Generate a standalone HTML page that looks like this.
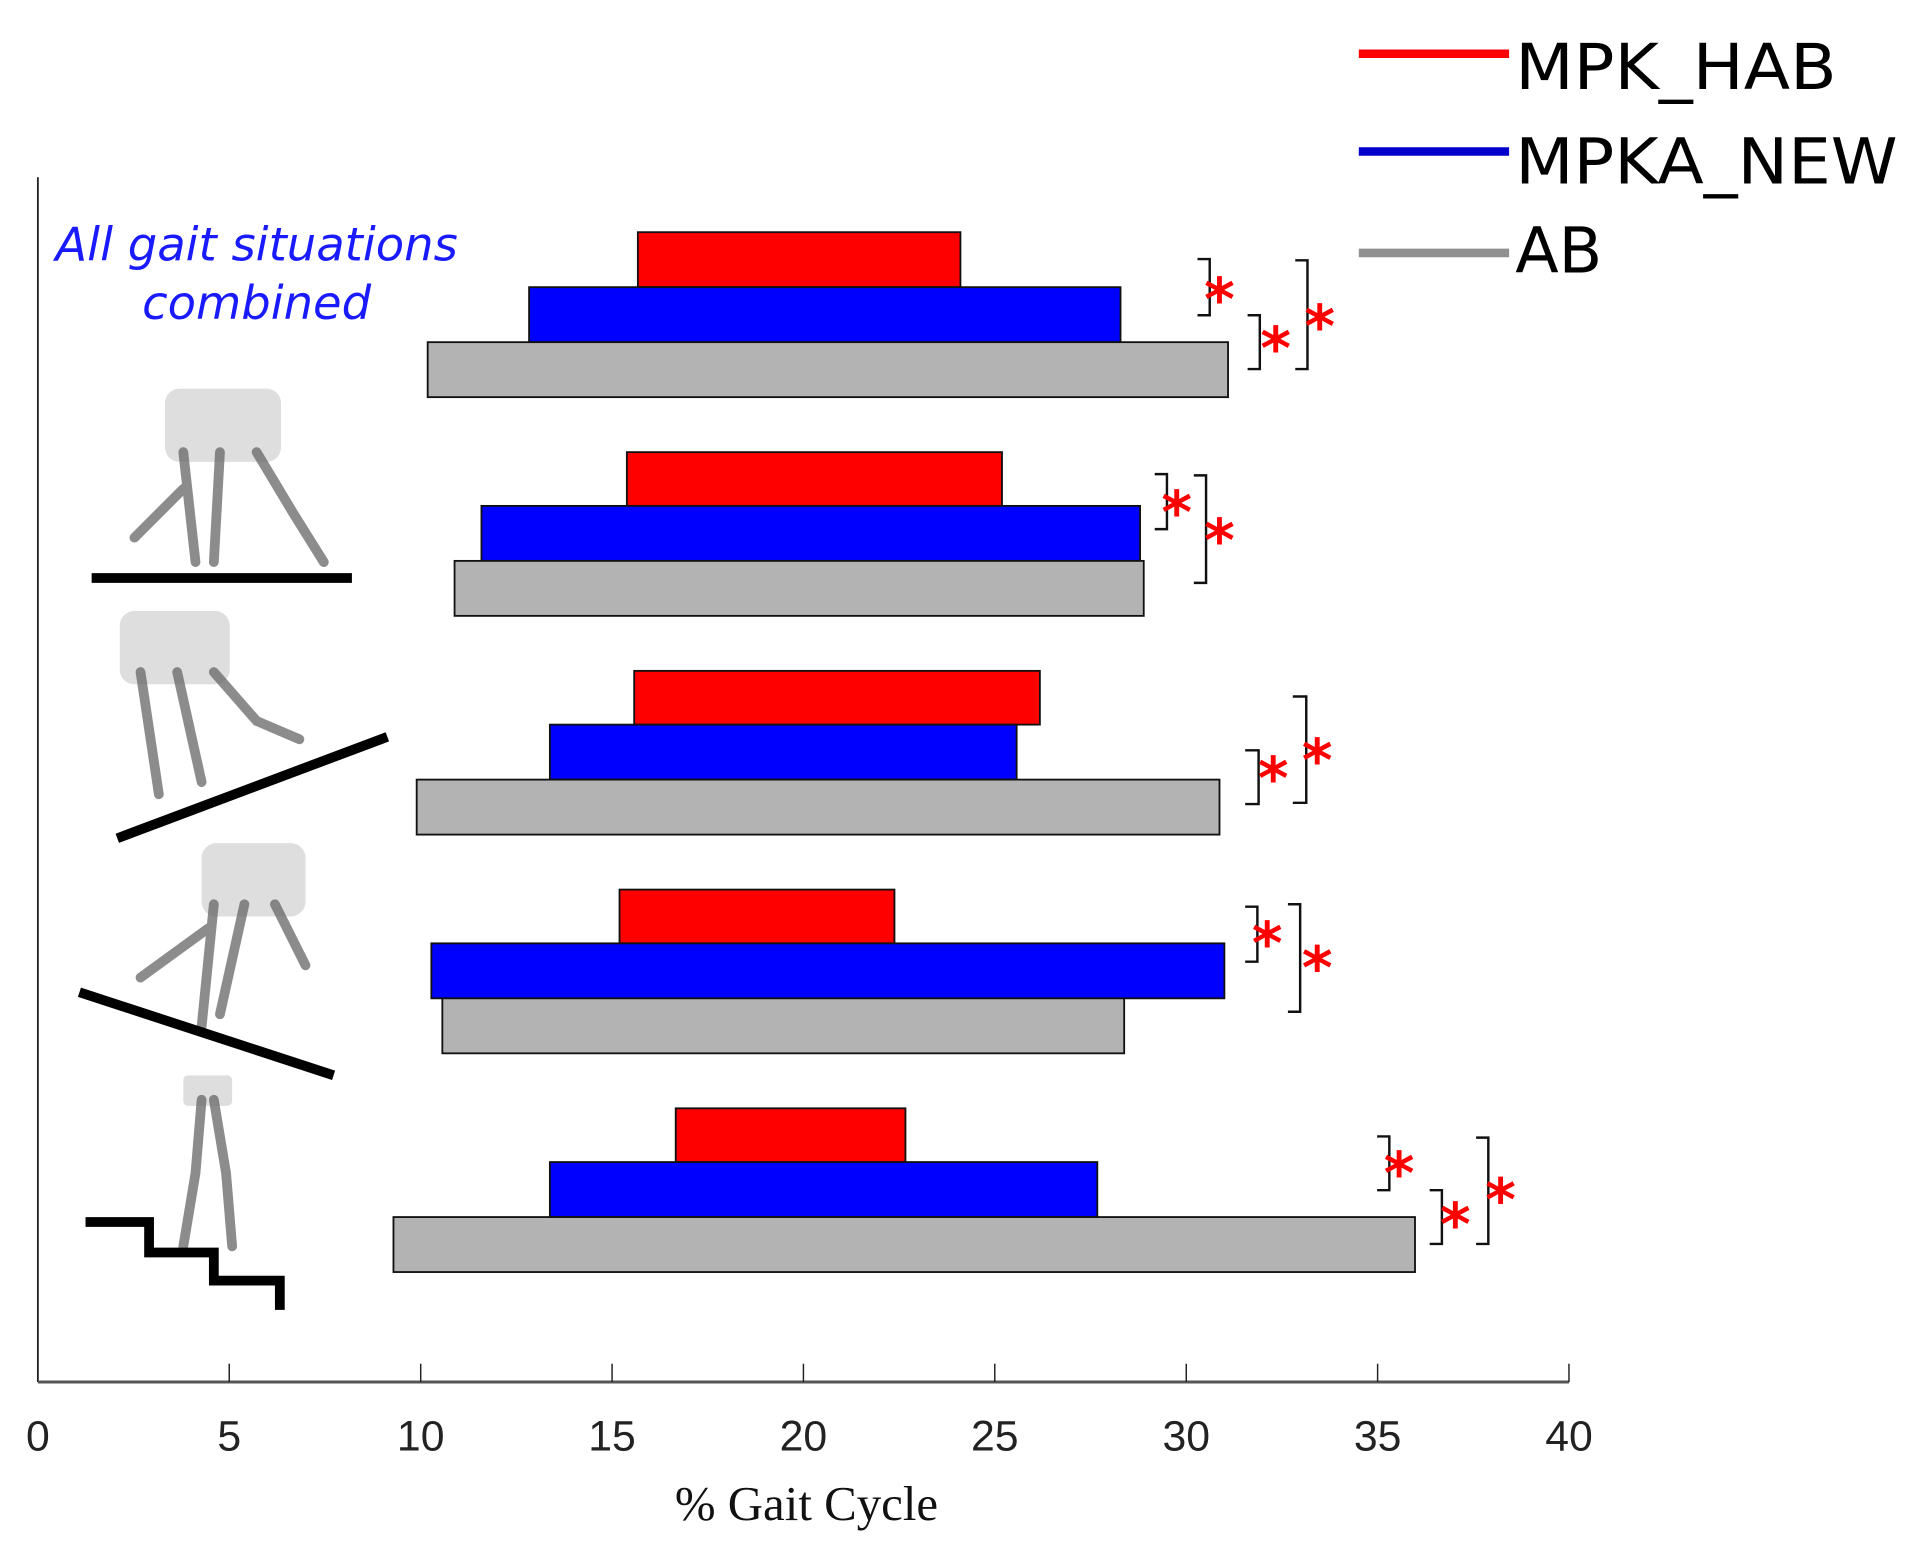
<!DOCTYPE html>
<html><head><meta charset="utf-8"><style>
html,body{margin:0;padding:0;background:#fff;}
svg{display:block;}
</style></head><body>
<svg width="1916" height="1558" viewBox="0 0 1568 1275" xmlns="http://www.w3.org/2000/svg">
<rect width="1568" height="1275" fill="#fff"/>
<line x1="31" y1="145" x2="31" y2="1131" stroke="#222" stroke-width="1.5"/>
<line x1="31" y1="1131" x2="1284" y2="1131" stroke="#555" stroke-width="2.5"/>
<g stroke="#222" stroke-width="1.2">
<line x1="187.6" y1="1131" x2="187.6" y2="1116"/><line x1="344.3" y1="1131" x2="344.3" y2="1116"/>
<line x1="500.9" y1="1131" x2="500.9" y2="1116"/><line x1="657.5" y1="1131" x2="657.5" y2="1116"/>
<line x1="814.1" y1="1131" x2="814.1" y2="1116"/><line x1="970.8" y1="1131" x2="970.8" y2="1116"/>
<line x1="1127.4" y1="1131" x2="1127.4" y2="1116"/><line x1="1284" y1="1131" x2="1284" y2="1116"/>
</g>
<g font-family="Liberation Sans, sans-serif" font-size="35" fill="#222" text-anchor="middle">
<text x="31" y="1187">0</text><text x="187.6" y="1187">5</text><text x="344.3" y="1187">10</text>
<text x="500.9" y="1187">15</text><text x="657.5" y="1187">20</text><text x="814.1" y="1187">25</text>
<text x="970.8" y="1187">30</text><text x="1127.4" y="1187">35</text><text x="1284" y="1187">40</text>
</g>
<text x="660" y="1244" font-family="Liberation Serif, serif" font-size="40" text-anchor="middle" fill="#111">% Gait Cycle</text>
<g font-family="DejaVu Sans, sans-serif" font-style="italic" font-size="38" fill="#1a1aff" text-anchor="middle">
<text x="210" y="213">All gait situations</text><text x="210" y="261">combined</text>
</g>
<g stroke="#111" stroke-width="1.5">
<rect x="522" y="190" width="264" height="45" fill="#ff0000"/>
<rect x="433" y="235" width="484" height="45" fill="#0000ff"/>
<rect x="350" y="280" width="655" height="45" fill="#b3b3b3"/>
<rect x="513" y="370" width="307" height="44" fill="#ff0000"/>
<rect x="394" y="414" width="539" height="45" fill="#0000ff"/>
<rect x="372" y="459" width="564" height="45" fill="#b3b3b3"/>
<rect x="519" y="549" width="332" height="44" fill="#ff0000"/>
<rect x="450" y="593" width="382" height="45" fill="#0000ff"/>
<rect x="341" y="638" width="657" height="45" fill="#b3b3b3"/>
<rect x="507" y="728" width="225" height="44" fill="#ff0000"/>
<rect x="353" y="772" width="649" height="45" fill="#0000ff"/>
<rect x="362" y="817" width="558" height="45" fill="#b3b3b3"/>
<rect x="553" y="907" width="188" height="44" fill="#ff0000"/>
<rect x="450" y="951" width="448" height="45" fill="#0000ff"/>
<rect x="322" y="996" width="836" height="45" fill="#b3b3b3"/>
</g>
<g fill="none" stroke="#111" stroke-width="2">
<polyline points="980,212 990,212 990,258 980,258"/><polyline points="1021,258 1031,258 1031,302 1021,302"/><polyline points="1060,213 1070,213 1070,302 1060,302"/>
<polyline points="945,388 955,388 955,433 945,433"/><polyline points="977,389 987,389 987,477 977,477"/>
<polyline points="1019,614 1030,614 1030,658 1019,658"/><polyline points="1058,570 1069,570 1069,657 1058,657"/>
<polyline points="1019,742 1029,742 1029,787 1019,787"/><polyline points="1054,740 1064,740 1064,828 1054,828"/>
<polyline points="1127,930 1137,930 1137,974 1127,974"/><polyline points="1170,974 1180,974 1180,1018 1170,1018"/><polyline points="1208,931 1218,931 1218,1018 1208,1018"/>
</g>
<g font-family="DejaVu Sans, sans-serif" font-size="48" fill="#ff0000" text-anchor="middle" font-weight="bold">
<text x="998" y="262">*</text><text x="1044" y="302">*</text><text x="1080" y="284">*</text>
<text x="963" y="436">*</text><text x="998" y="459">*</text>
<text x="1042" y="654">*</text><text x="1078" y="639">*</text>
<text x="1037" y="789">*</text><text x="1078" y="809">*</text>
<text x="1145" y="977">*</text><text x="1191" y="1019">*</text><text x="1228" y="999">*</text>
</g>
<g stroke-width="7">
<line x1="1112" y1="44" x2="1235" y2="44" stroke="#ff0000"/>
<line x1="1112" y1="124" x2="1235" y2="124" stroke="#0000cc"/>
<line x1="1112" y1="207" x2="1235" y2="207" stroke="#909090"/>
</g>
<g font-family="DejaVu Sans, sans-serif" font-size="52" fill="#000">
<text x="1240" y="73" textLength="263" lengthAdjust="spacingAndGlyphs">MPK_HAB</text>
<text x="1240" y="150" textLength="313" lengthAdjust="spacingAndGlyphs">MPKA_NEW</text>
<text x="1240" y="223">AB</text>
</g>
<g fill="#d6d6d6" opacity="0.8">
<rect x="135" y="318" width="95" height="60" rx="12"/>
<rect x="98" y="500" width="90" height="60" rx="12"/>
<rect x="165" y="690" width="85" height="60" rx="12"/>
<rect x="150" y="880" width="40" height="25" rx="4"/>
</g>
<g stroke="#666" stroke-width="8" stroke-linecap="round" fill="none" opacity="0.75">
<path d="M150 370 L160 460 M180 370 L175 460 M210 370 L240 420 L265 460 M150 400 L110 440"/>
<path d="M115 550 L130 650 M145 550 L165 640 M175 550 L210 590 L245 605"/>
<path d="M175 740 L165 840 M200 740 L180 830 M225 740 L250 790 M170 760 L115 800"/>
<path d="M165 900 L160 960 L150 1020 M175 900 L185 960 L190 1020"/>
</g>
<line x1="75" y1="473" x2="288" y2="473" stroke="#000" stroke-width="8"/>
<line x1="96" y1="686" x2="317" y2="603" stroke="#000" stroke-width="8"/>
<line x1="65" y1="812" x2="273" y2="880" stroke="#000" stroke-width="8"/>
<polyline points="70,1000 122,1000 122,1025 175,1025 175,1048 229,1048 229,1072" fill="none" stroke="#000" stroke-width="8"/>
</svg>
</body></html>
